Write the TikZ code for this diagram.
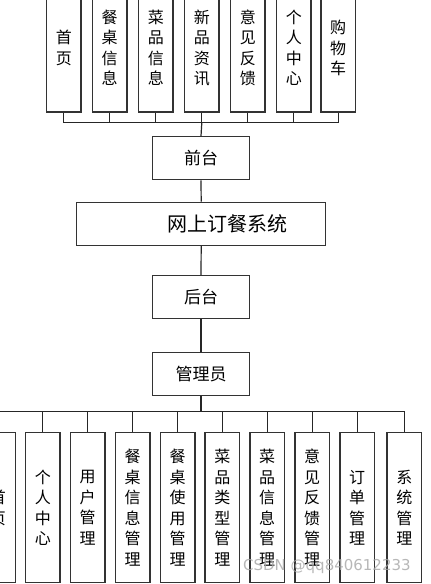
\documentclass[tikz,border=0pt]{standalone}
\usepackage{fontspec}
\newfontfamily\cjk{Noto Sans CJK SC}
\newfontfamily\wmfont{DejaVu Sans}
\begin{document}
\begin{tikzpicture}[x=1pt,y=-1pt,
  box/.style={draw=black!80, line width=1.3pt, fill=white, inner sep=0pt, align=center,
              font=\cjk\fontsize{16}{20.5}\selectfont},
  vbox/.style={box, minimum width=34.5pt},
  topbox/.style={vbox, minimum height=128pt},
  botbox/.style={vbox, minimum height=150pt},
  hbox/.style={box, minimum width=96.6pt, minimum height=43pt, font=\cjk\fontsize{17}{20}\selectfont},
  link/.style={draw=black!85, line width=1.2pt}]
\useasboundingbox (0,0) rectangle (431,584);
\fill[white] (0,0) rectangle (431,584);
% top row
\node[topbox] (t1) at (63.8,48)  {首\\页};
\node[topbox] (t2) at (109.7,48) {餐\\桌\\信\\息};
\node[topbox] (t3) at (155.8,48) {菜\\品\\信\\息};
\node[topbox] (t4) at (201.8,48) {新\\品\\资\\讯};
\node[topbox] (t5) at (247.8,48) {意\\见\\反\\馈};
\node[topbox] (t6) at (293.8,48) {个\\人\\中\\心};
\node[topbox] (t7) at (338.2,48) {购\\物\\车};
% middle column
\node[hbox] (qt) at (201,158.2) {前台};
\node[box, minimum width=249pt, minimum height=43pt, font=\cjk\fontsize{20}{24}\selectfont] (sys) at (201.2,223.8) {\hspace*{53pt}网上订餐系统};
\node[hbox] (ht) at (201,297.3) {后台};
\node[hbox] (gly) at (201,374.2) {管理员};
% bottom row
\node[botbox] (b0) at (-2,507.8)    {首\\页};
\node[botbox] (b1) at (42.8,507.8)  {个\\人\\中\\心};
\node[botbox] (b2) at (87.7,507.8)  {用\\户\\管\\理};
\node[botbox] (b3) at (132.7,507.8) {餐\\桌\\信\\息\\管\\理};
\node[botbox] (b4) at (177.7,507.8) {餐\\桌\\使\\用\\管\\理};
\node[botbox] (b5) at (222.3,507.8) {菜\\品\\类\\型\\管\\理};
\node[botbox] (b6) at (267.2,507.8) {菜\\品\\信\\息\\管\\理};
\node[botbox] (b7) at (312.2,507.8) {意\\见\\反\\馈\\管\\理};
\node[botbox] (b8) at (357.2,507.8) {订\\单\\管\\理};
\node[botbox] (b9) at (404.3,507.8) {系\\统\\管\\理};
% connectors
\coordinate (tbus) at (201.8,122.7);
\foreach \i in {1,...,7} \draw[link] (t\i.south) |- (tbus);
\draw[link] (tbus) -- (qt.north);
\draw[link] (qt.south) -- (sys.north);
\draw[link] (sys.south) -- (ht.north);
\draw[link] (ht.south) -- (gly.north);
\coordinate (bbus) at (201,411.7);
\draw[link] (gly.south) -- (bbus);
\foreach \i in {0,...,9} \draw[link] (bbus) -| (b\i.north);
% watermark
\node[anchor=west, text=gray!70, opacity=0.8, inner sep=0pt, font=\wmfont\fontsize{15}{15}\selectfont] (wm) at (243,566) {CSDN @qq840612233};
\end{tikzpicture}
\end{document}
